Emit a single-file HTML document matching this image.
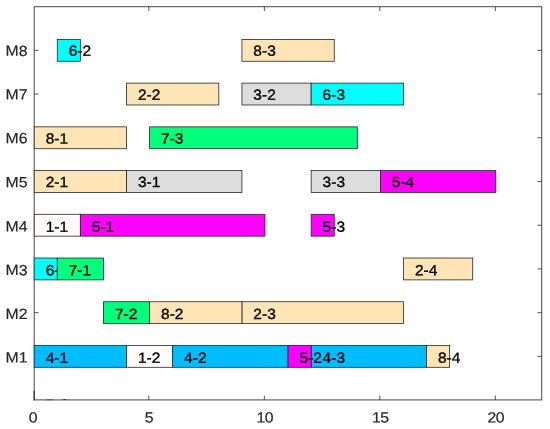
<!DOCTYPE html>
<html><head><meta charset="utf-8"><title>Gantt chart</title>
<style>
html,body{margin:0;padding:0;background:#fff;}
body{width:550px;height:429px;overflow:hidden;}
svg{display:block;}
text{font-family:"Liberation Sans",Arial,Helvetica,sans-serif;font-size:15.8px;text-rendering:geometricPrecision;}
.tl{fill:#262626;stroke:#262626;stroke-width:0.2px;}
.bl{fill:#000;stroke:#000;stroke-width:0.35px;font-size:15.5px;}
.a{stroke:#484848;stroke-width:1.0;fill:none;}
.b{stroke:#262626;stroke-width:0.8;}
.t{stroke:#2a2a2a;stroke-width:0.8;fill:none;}
</style></head><body>
<svg width="550" height="429" viewBox="0 0 550 429">
<rect x="0" y="0" width="550" height="429" fill="#ffffff"/>
<defs><clipPath id="ax"><rect x="33.20" y="6.70" width="508.50" height="393.40"/></clipPath></defs>
<rect class="a" x="34.20" y="6.70" width="507.50" height="393.20"/>
<line class="t" x1="148.85" y1="399.90" x2="148.85" y2="395.60"/><line class="t" x1="148.85" y1="6.70" x2="148.85" y2="11.00"/>
<line class="t" x1="264.35" y1="399.90" x2="264.35" y2="395.60"/><line class="t" x1="264.35" y1="6.70" x2="264.35" y2="11.00"/>
<line class="t" x1="379.85" y1="399.90" x2="379.85" y2="395.60"/><line class="t" x1="379.85" y1="6.70" x2="379.85" y2="11.00"/>
<line class="t" x1="495.35" y1="399.90" x2="495.35" y2="395.60"/><line class="t" x1="495.35" y1="6.70" x2="495.35" y2="11.00"/>
<line class="t" x1="34.20" y1="356.38" x2="38.50" y2="356.38"/><line class="t" x1="541.70" y1="356.38" x2="537.40" y2="356.38"/>
<line class="t" x1="34.20" y1="312.66" x2="38.50" y2="312.66"/><line class="t" x1="541.70" y1="312.66" x2="537.40" y2="312.66"/>
<line class="t" x1="34.20" y1="268.94" x2="38.50" y2="268.94"/><line class="t" x1="541.70" y1="268.94" x2="537.40" y2="268.94"/>
<line class="t" x1="34.20" y1="225.22" x2="38.50" y2="225.22"/><line class="t" x1="541.70" y1="225.22" x2="537.40" y2="225.22"/>
<line class="t" x1="34.20" y1="181.50" x2="38.50" y2="181.50"/><line class="t" x1="541.70" y1="181.50" x2="537.40" y2="181.50"/>
<line class="t" x1="34.20" y1="137.78" x2="38.50" y2="137.78"/><line class="t" x1="541.70" y1="137.78" x2="537.40" y2="137.78"/>
<line class="t" x1="34.20" y1="94.06" x2="38.50" y2="94.06"/><line class="t" x1="541.70" y1="94.06" x2="537.40" y2="94.06"/>
<line class="t" x1="34.20" y1="50.34" x2="38.50" y2="50.34"/><line class="t" x1="541.70" y1="50.34" x2="537.40" y2="50.34"/>
<g clip-path="url(#ax)">
<rect class="b" x="34.20" y="214.29" width="46.16" height="21.86" fill="#FEFBF9"/><text class="bl" transform="translate(45.64 231.72) rotate(0.06) scale(1 0.95)">1-1</text>
<rect class="b" x="126.52" y="345.45" width="46.16" height="21.86" fill="#FEFBF9"/><text class="bl" transform="translate(137.96 362.73) rotate(0.06) scale(1 0.95)">1-2</text>
<rect class="b" x="34.20" y="170.57" width="92.32" height="21.86" fill="#FFE4B5"/><text class="bl" transform="translate(45.64 187.00) rotate(0.06) scale(1 0.95)">2-1</text>
<rect class="b" x="126.52" y="83.13" width="92.32" height="21.86" fill="#FFE4B5"/><text class="bl" transform="translate(137.96 99.66) rotate(0.06) scale(1 0.95)">2-2</text>
<rect class="b" x="241.92" y="301.73" width="161.56" height="21.86" fill="#FFE4B5"/><text class="bl" transform="translate(253.36 318.96) rotate(0.06) scale(1 0.95)">2-3</text>
<rect class="b" x="403.48" y="258.01" width="69.24" height="21.86" fill="#FFE4B5"/><text class="bl" transform="translate(414.92 275.14) rotate(0.06) scale(1 0.95)">2-4</text>
<rect class="b" x="126.52" y="170.57" width="115.40" height="21.86" fill="#DCDCDC"/><text class="bl" transform="translate(137.96 187.00) rotate(0.06) scale(1 0.95)">3-1</text>
<rect class="b" x="241.92" y="83.13" width="69.24" height="21.86" fill="#DCDCDC"/><text class="bl" transform="translate(253.36 99.66) rotate(0.06) scale(1 0.95)">3-2</text>
<rect class="b" x="311.16" y="170.57" width="69.24" height="21.86" fill="#DCDCDC"/><text class="bl" transform="translate(322.60 187.00) rotate(0.06) scale(1 0.95)">3-3</text>
<rect class="b" x="34.20" y="345.45" width="92.32" height="21.86" fill="#00BDFF"/><text class="bl" transform="translate(45.64 362.73) rotate(0.06) scale(1 0.95)">4-1</text>
<rect class="b" x="172.68" y="345.45" width="115.40" height="21.86" fill="#00BDFF"/><text class="bl" transform="translate(184.12 362.73) rotate(0.06) scale(1 0.95)">4-2</text>
<rect class="b" x="311.16" y="345.45" width="115.40" height="21.86" fill="#00BDFF"/><text class="bl" transform="translate(322.60 362.73) rotate(0.06) scale(1 0.95)">4-3</text>
<rect class="b" x="80.36" y="214.29" width="184.64" height="21.86" fill="#FF00FF"/><text class="bl" transform="translate(91.80 231.72) rotate(0.06) scale(1 0.95)">5-1</text>
<rect class="b" x="288.08" y="345.45" width="23.08" height="21.86" fill="#FF00FF"/><text class="bl" transform="translate(299.52 362.73) rotate(0.06) scale(1 0.95)">5-2</text>
<rect class="b" x="311.16" y="214.29" width="23.08" height="21.86" fill="#FF00FF"/><text class="bl" transform="translate(322.60 231.72) rotate(0.06) scale(1 0.95)">5-3</text>
<rect class="b" x="380.40" y="170.57" width="115.40" height="21.86" fill="#FF00FF"/><text class="bl" transform="translate(391.84 187.00) rotate(0.06) scale(1 0.95)">5-4</text>
<rect class="b" x="34.20" y="258.01" width="23.08" height="21.86" fill="#00FFFF"/><text class="bl" transform="translate(45.64 275.14) rotate(0.06) scale(1 0.95)">6-1</text>
<rect class="b" x="57.28" y="39.41" width="23.08" height="21.86" fill="#00FFFF"/><text class="bl" transform="translate(68.72 55.84) rotate(0.06) scale(1 0.95)">6-2</text>
<rect class="b" x="311.16" y="83.13" width="92.32" height="21.86" fill="#00FFFF"/><text class="bl" transform="translate(322.60 99.66) rotate(0.06) scale(1 0.95)">6-3</text>
<rect class="b" x="57.28" y="258.01" width="46.16" height="21.86" fill="#00FF7A"/><text class="bl" transform="translate(68.72 275.14) rotate(0.06) scale(1 0.95)">7-1</text>
<rect class="b" x="103.44" y="301.73" width="46.16" height="21.86" fill="#00FF7A"/><text class="bl" transform="translate(114.88 318.96) rotate(0.06) scale(1 0.95)">7-2</text>
<rect class="b" x="149.60" y="126.85" width="207.72" height="21.86" fill="#00FF7A"/><text class="bl" transform="translate(161.04 143.53) rotate(0.06) scale(1 0.95)">7-3</text>
<rect class="b" x="34.20" y="126.85" width="92.32" height="21.86" fill="#FFE4B5"/><text class="bl" transform="translate(45.64 143.53) rotate(0.06) scale(1 0.95)">8-1</text>
<rect class="b" x="149.60" y="301.73" width="92.32" height="21.86" fill="#FFE4B5"/><text class="bl" transform="translate(161.04 318.96) rotate(0.06) scale(1 0.95)">8-2</text>
<rect class="b" x="241.92" y="39.41" width="92.32" height="21.86" fill="#FFE4B5"/><text class="bl" transform="translate(253.36 55.84) rotate(0.06) scale(1 0.95)">8-3</text>
<rect class="b" x="426.56" y="345.45" width="23.08" height="21.86" fill="#FFE4B5"/><text class="bl" transform="translate(438.00 362.73) rotate(0.06) scale(1 0.95)">8-4</text>
</g>
<line x1="34.20" y1="390.80" x2="34.20" y2="400.40" stroke="#222" stroke-width="1.0"/>
<line x1="46.5" y1="399.80" x2="53" y2="399.80" stroke="#222" stroke-width="0.55"/>
<polygon points="62,400.10 64.8,399.00 66.4,400.10" fill="#222"/>
<text class="tl" transform="translate(33.25 422.45) rotate(0.06) scale(1 0.935)" text-anchor="middle">0</text>
<text class="tl" transform="translate(149.05 422.45) rotate(0.06) scale(1 0.935)" text-anchor="middle">5</text>
<text class="tl" transform="translate(264.80 422.45) rotate(0.06) scale(1 0.935)" text-anchor="middle" letter-spacing="-0.5">10</text>
<text class="tl" transform="translate(380.35 422.45) rotate(0.06) scale(1 0.935)" text-anchor="middle" letter-spacing="-0.5">15</text>
<text class="tl" transform="translate(495.85 422.45) rotate(0.06) scale(1 0.935)" text-anchor="middle" letter-spacing="-0.5">20</text>
<text class="tl" transform="translate(27.5 362.63) rotate(0.06) scale(1 0.935)" text-anchor="end">M1</text>
<text class="tl" transform="translate(27.5 318.91) rotate(0.06) scale(1 0.935)" text-anchor="end">M2</text>
<text class="tl" transform="translate(27.5 275.14) rotate(0.06) scale(1 0.935)" text-anchor="end">M3</text>
<text class="tl" transform="translate(27.5 231.52) rotate(0.06) scale(1 0.935)" text-anchor="end">M4</text>
<text class="tl" transform="translate(27.5 187.20) rotate(0.06) scale(1 0.935)" text-anchor="end">M5</text>
<text class="tl" transform="translate(27.5 143.33) rotate(0.06) scale(1 0.935)" text-anchor="end">M6</text>
<text class="tl" transform="translate(27.5 99.61) rotate(0.06) scale(1 0.935)" text-anchor="end">M7</text>
<text class="tl" transform="translate(27.5 55.89) rotate(0.06) scale(1 0.935)" text-anchor="end">M8</text>
</svg>
</body></html>
